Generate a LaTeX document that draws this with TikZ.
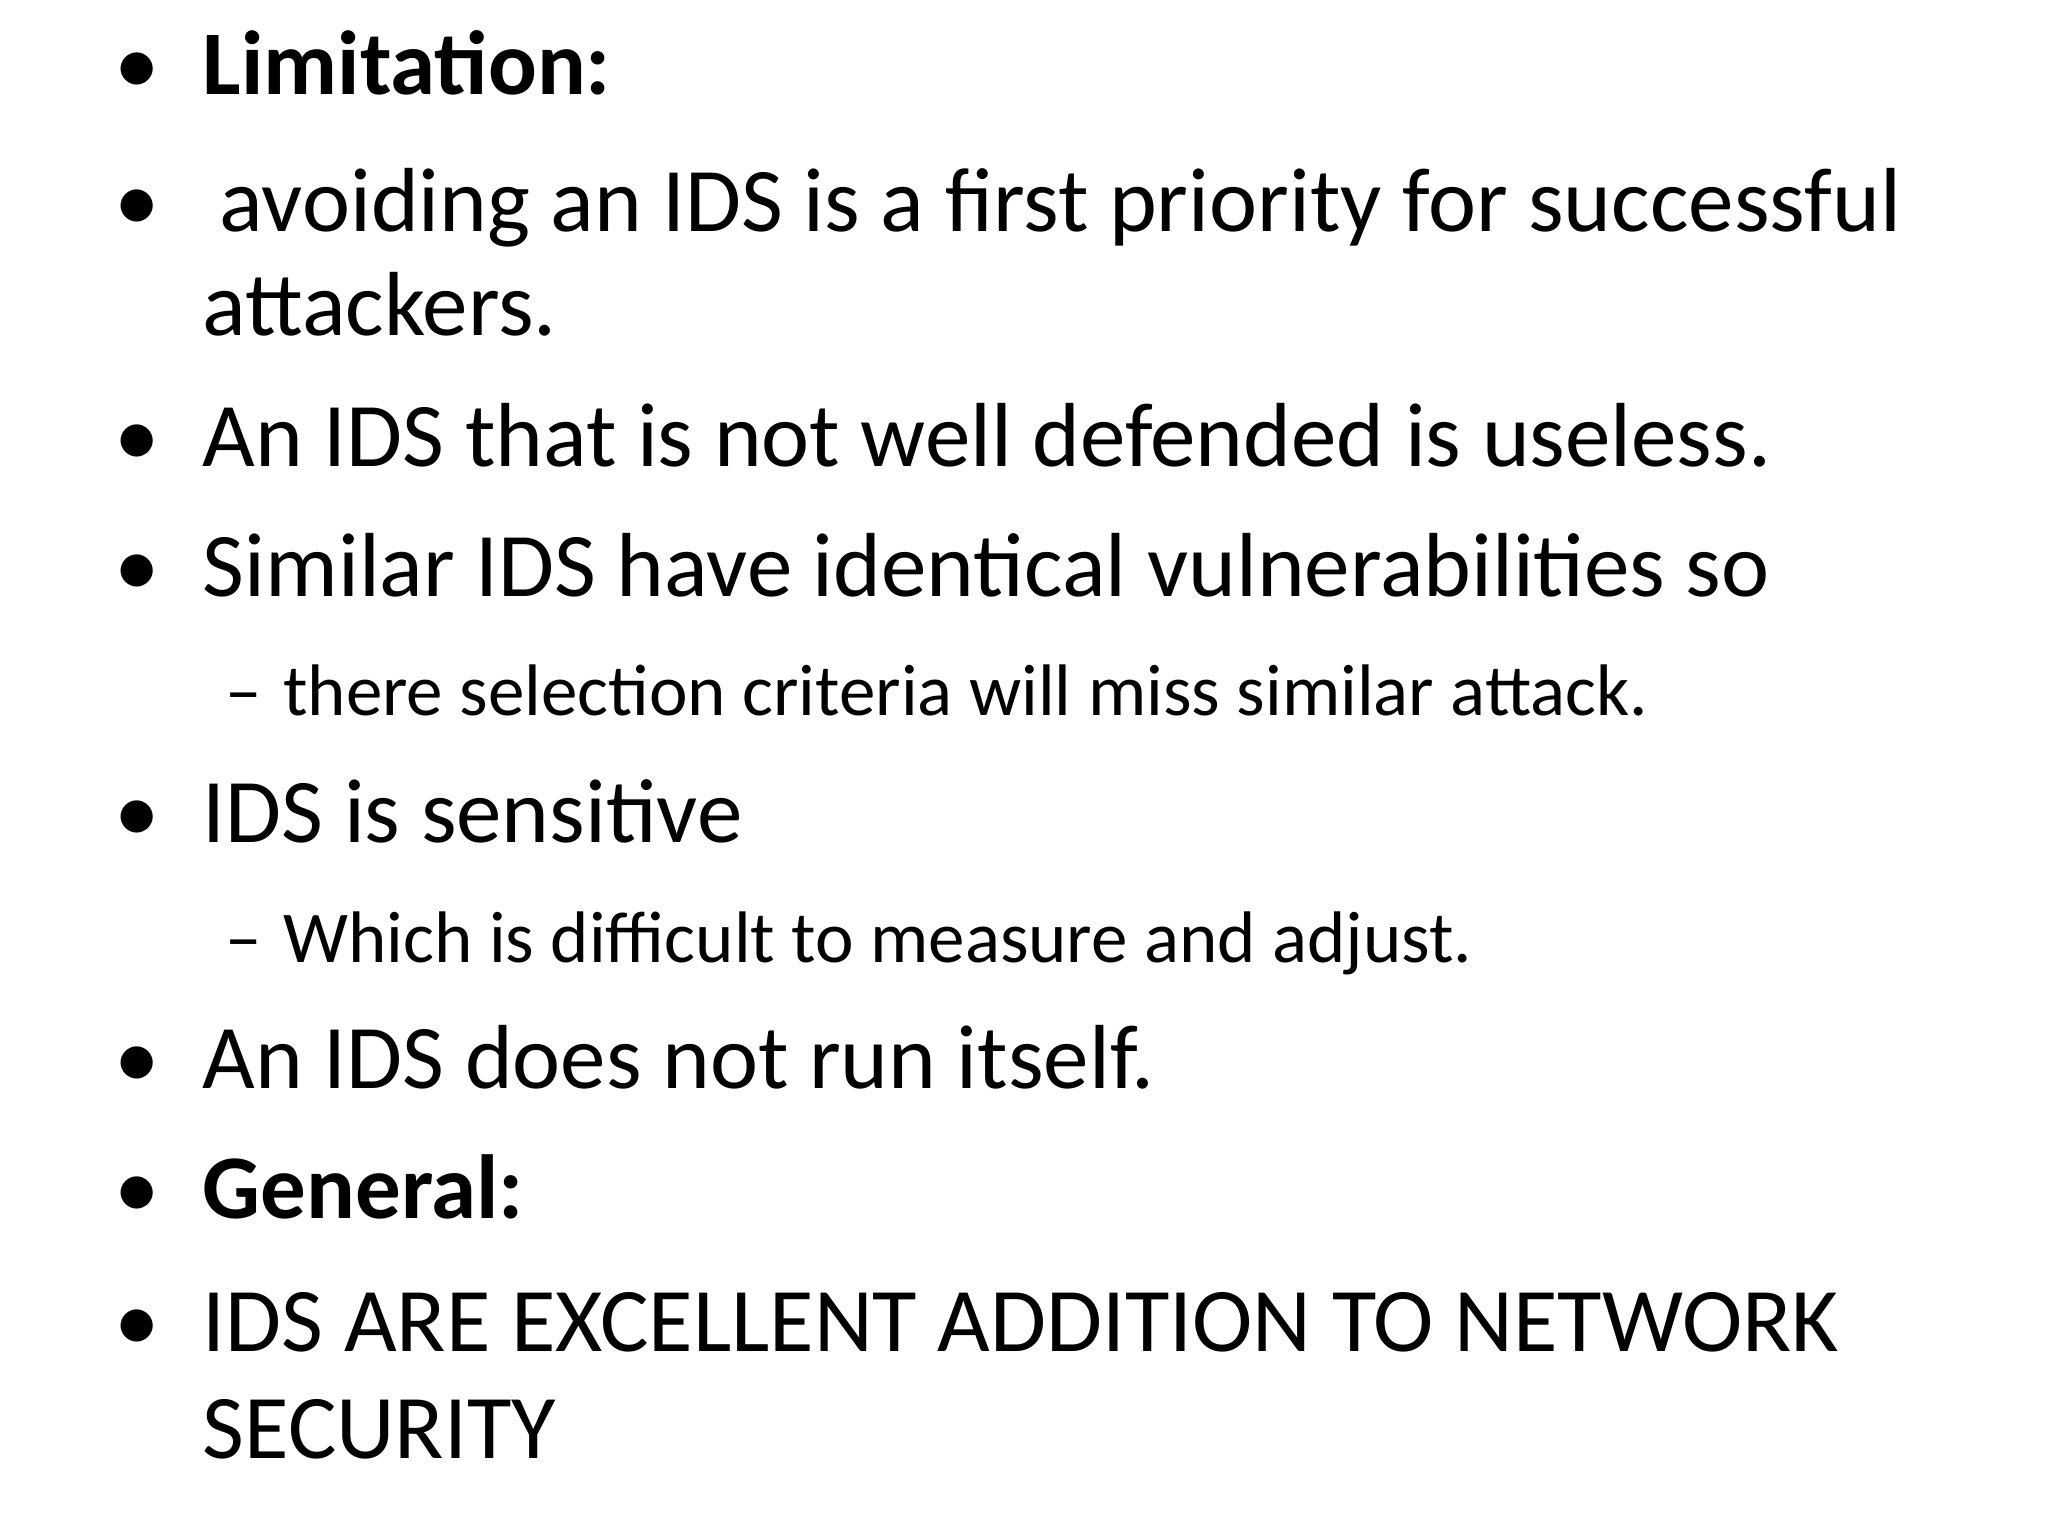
\documentclass[tikz,border=0pt]{standalone}
\usepackage{fontspec}
\setmainfont{Carlito}
\begin{document}
\begin{tikzpicture}[x=0.65306pt,y=-0.65306pt,
  main/.style={anchor=base west,inner sep=0pt,font=\fontsize{45.5}{50}\selectfont},
  sub/.style={anchor=base west,inner sep=0pt,font=\fontsize{36.5}{40}\selectfont},
  bul/.style={anchor=base,inner sep=0pt,font=\fontsize{45.5}{50}\selectfont}]
\useasboundingbox (0,0) rectangle (1568,1176);
\fill[white] (0,0) rectangle (1568,1176);
\node[bul] (b1) at (105,72) {•};  \node[main] (t1) at (155,72) {\textbf{Limitation:}};
\node[bul] (b2) at (105,177) {•}; \node[main] (t2) at (168,177) {avoiding an IDS is a first priority for successful};
\node[main] (t2b) at (155,257) {attackers.};
\node[bul] (b3) at (105,357) {•}; \node[main] (t3) at (155,357) {An IDS that is not well defended is useless.};
\node[bul] (b4) at (105,457) {•}; \node[main] (t4) at (155,457) {Similar IDS have identical vulnerabilities so};
\node[sub] (s1) at (172,548) {–\hspace{0.3em}there selection criteria will miss similar attack.};
\node[bul] (b5) at (105,645) {•}; \node[main] (t5) at (155,645) {IDS is sensitive};
\node[sub] (s2) at (172,737) {–\hspace{0.3em}Which is difficult to measure and adjust.};
\node[bul] (b6) at (105,833) {•}; \node[main] (t6) at (155,833) {An IDS does not run itself.};
\node[bul] (b7) at (105,933) {•}; \node[main] (t7) at (155,933) {\textbf{General:}};
\node[bul] (b8) at (105,1035) {•}; \node[main] (t8) at (155,1035) {IDS ARE EXCELLENT ADDITION TO NETWORK};
\node[main] (t8b) at (155,1117) {SECURITY};
\end{tikzpicture}
\end{document}
